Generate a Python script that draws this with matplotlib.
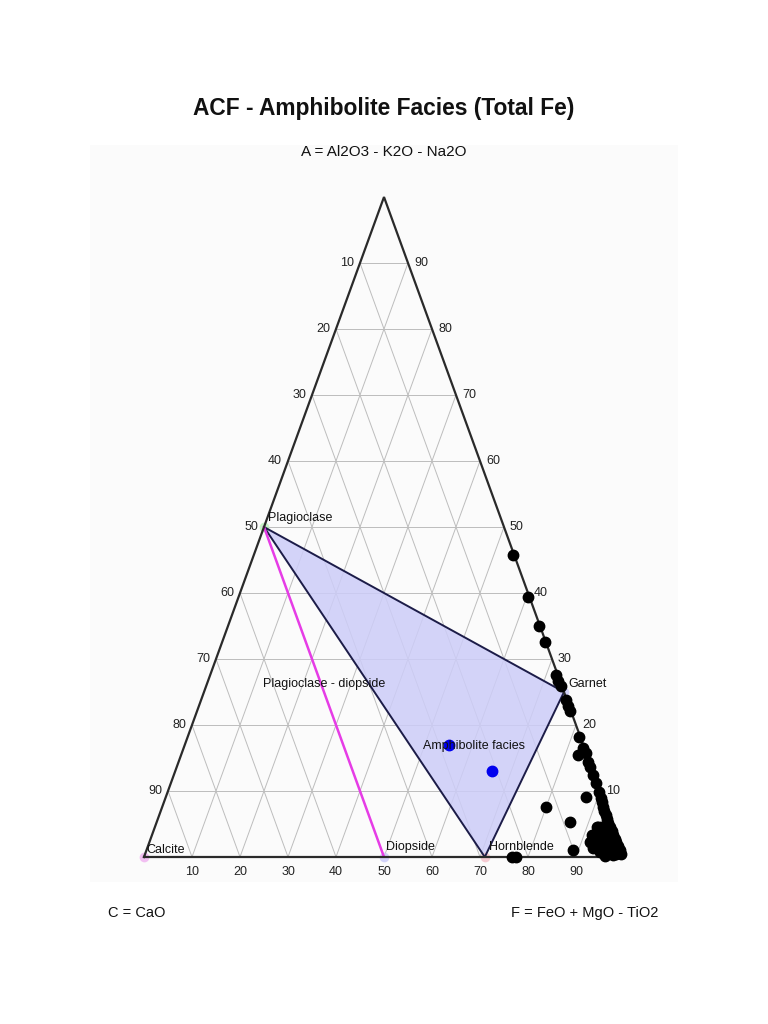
import matplotlib
matplotlib.use('Agg')
import matplotlib.pyplot as plt
from matplotlib.patches import Polygon

plt.rcParams['font.family'] = ['Liberation Sans', 'DejaVu Sans']

# ---------------- data ----------------
ticks = [10, 20, 30, 40, 50, 60, 70, 80, 90]

# mineral end members (A, C, F)
minerals = {
    'Plagioclase': (50, 50, 0),
    'Calcite': (0, 100, 0),
    'Diopside': (0, 50, 50),
    'Hornblende': (0, 29, 71),
    'Garnet': (25, 0, 75),
}

# amphibolite facies field (A, C, F)
field_A = [50, 25, 0]
field_C = [50, 0, 29]
field_F = [0, 75, 71]

# blue samples
blue_A = [16.9, 13.0]
blue_F = [55.0, 66.1]

# black samples (A, C); F = 100 - A - C
black_A = [45.8, 39.4, 35.0, 32.6, 27.6, 26.7, 25.9, 23.8, 22.9, 22.1,
           18.2, 16.5, 15.5, 15.7, 14.4, 13.6, 12.4, 11.2, 9.9, 9.1,
           7.6, 5.3, 1.0, 0.0, 0.0,
           9.0, 8.3, 7.6, 7.0, 6.4, 5.8, 5.2, 4.6, 4.0, 3.4, 2.8, 2.2, 1.6, 1.0, 0.5,
           4.0, 3.5, 3.0, 2.5, 2.0, 1.5, 1.0, 0.6, 0.4, 1.8, 3.6, 2.7, 0.8,
           4.6, 4.6, 3.3, 2.3, 1.3, 4.6, 0.3, 0.2, 1.2, 2.0]
black_C = [0.3, 0.3, 0.3, 0.2, 0.3, 0.3, 0.2, 0.2, 0.3, 0.2,
           0.2, 0.2, 1.8, 0.1, 0.2, 0.2, 0.2, 0.2, 0.2, 3.4,
           12.5, 8.5, 10.1, 23.4, 22.6,
           0.3, 0.4, 0.5, 0.6, 0.5, 0.7, 0.8, 0.6, 0.4, 0.5, 0.4, 0.6, 0.5, 0.4, 0.3,
           1.2, 1.8, 1.4, 2.5, 1.9, 2.8, 1.8, 3.0, 1.4, 3.8, 3.0, 4.3, 4.5,
           3.4, 2.4, 5.1, 5.9, 5.8, 3.1, 2.2, 3.8, 2.6, 3.0]


def tern(A, C, F):
    s = A + C + F
    return F / s + 0.5 * A / s, A / s


# ---------------- figure ----------------
fig = plt.figure(figsize=(7.68, 10.24), dpi=100)
bg = fig.add_axes([90 / 768, 1 - 882 / 1024, 588 / 768, 737 / 1024], zorder=0)
bg.set_facecolor('#fbfbfb')
bg.set_xticks([]); bg.set_yticks([])
for s in bg.spines.values():
    s.set_visible(False)

ax = fig.add_axes([144 / 768, 167 / 1024, 480 / 768, 660 / 1024], zorder=2)
ax.set_xlim(0, 1)
ax.set_ylim(0, 1)
ax.axis('off')

gridc = '#bdbdbd'
for v in ticks:
    # constant A
    p1 = tern(v, 100 - v, 0); p2 = tern(v, 0, 100 - v)
    ax.plot([p1[0], p2[0]], [p1[1], p2[1]], color=gridc, lw=0.7, zorder=1)
    # constant C
    p1 = tern(100 - v, v, 0); p2 = tern(0, v, 100 - v)
    ax.plot([p1[0], p2[0]], [p1[1], p2[1]], color=gridc, lw=0.7, zorder=1)
    # constant F
    p1 = tern(100 - v, 0, v); p2 = tern(0, 100 - v, v)
    ax.plot([p1[0], p2[0]], [p1[1], p2[1]], color=gridc, lw=0.7, zorder=1)

# field polygon
poly_pts = [tern(a, c, f) for a, c, f in zip(field_A, field_C, field_F)]
ax.add_patch(Polygon(poly_pts, closed=True, facecolor='#cdcdf8', alpha=0.85,
                     edgecolor='none', zorder=2))
ax.add_patch(Polygon(poly_pts, closed=True, facecolor='none',
                     edgecolor='#1c1c48', lw=1.4, zorder=4))

# plagioclase - diopside tie line
pA = tern(*minerals['Plagioclase']); pD = tern(*minerals['Diopside'])
ax.plot([pA[0], pD[0]], [pA[1], pD[1]], color='#e63ce6', lw=1.8, zorder=4)

# triangle frame
tri = [tern(0, 100, 0), tern(0, 0, 100), tern(100, 0, 0), tern(0, 100, 0)]
ax.plot([p[0] for p in tri], [p[1] for p in tri], color='#2a2a2a', lw=1.6,
        zorder=5, clip_on=False, solid_joinstyle='miter')

# vertex markers
vcol = {'Plagioclase': '#b8f0b8', 'Calcite': '#f0b0f0', 'Diopside': '#c8c8f8',
        'Hornblende': '#f4c0c8', 'Garnet': '#c8c8f8'}
for name, (a, c, f) in minerals.items():
    x, y = tern(a, c, f)
    ax.plot(x, y, marker='o', ms=7, color=vcol[name], alpha=0.8, mec='none',
            zorder=3, clip_on=False)

# samples
bx, by = zip(*[tern(a, c, 100 - a - c) for a, c in zip(black_A, black_C)])
ax.plot(bx, by, 'o', color='black', ms=7.5, mec='black', zorder=6, clip_on=False)
blx, bly = zip(*[tern(a, 100 - a - f, f) for a, f in zip(blue_A, blue_F)])
ax.plot(blx, bly, 'o', color='#0000ee', ms=7.5, mec='#0000ee', zorder=6)

# tick labels
tfs = 9
for v in ticks:
    x, y = tern(0, 100 - v, v)
    ax.annotate(str(v), (x, y), xytext=(0, -15), textcoords='offset pixels',
                ha='center', va='center', fontsize=tfs, color='#222222')
    x, y = tern(100 - v, v, 0)
    ax.annotate(str(v), (x, y), xytext=(-6, 0), textcoords='offset pixels',
                ha='right', va='center', fontsize=tfs, color='#222222')
    x, y = tern(v, 0, 100 - v)
    ax.annotate(str(v), (x, y), xytext=(6, 0), textcoords='offset pixels',
                ha='left', va='center', fontsize=tfs, color='#222222')

# mineral labels
lfs = 9
offs = {'Plagioclase': (4, 9), 'Calcite': (2, 7), 'Diopside': (2, 10),
        'Hornblende': (4, 10), 'Garnet': (4, 8)}
for name, (a, c, f) in minerals.items():
    x, y = tern(a, c, f)
    ax.annotate(name, (x, y), xytext=offs[name], textcoords='offset pixels',
                ha='left', va='center', fontsize=lfs, color='#111111', zorder=7)

x, y = tern(16.8, 22.8, 60.4)
ax.text(x, y, 'Amphibolite facies', ha='center', va='center', fontsize=lfs,
        color='#111111', zorder=7)
x, y = tern(26.2, 49.4, 24.4)
ax.text(x, y, 'Plagioclase - diopside', ha='center', va='center', fontsize=lfs,
        color='#111111', zorder=7)

# titles
fig.text(0.5, 1 - 108 / 1024, 'ACF - Amphibolite Facies (Total Fe)',
         ha='center', va='center', fontsize=16.4, fontweight='bold', color='#111111')
fig.text(0.5, 1 - 152 / 1024, 'A = Al2O3 - K2O - Na2O', ha='center', va='center',
         fontsize=11, color='#111111', zorder=5)
fig.text(137 / 768, 1 - 913 / 1024, 'C = CaO', ha='center', va='center',
         fontsize=10.5, color='#111111')
fig.text(585 / 768, 1 - 913 / 1024, 'F = FeO + MgO - TiO2', ha='center',
         va='center', fontsize=10.5, color='#111111')

fig.savefig('out.png', dpi=100, facecolor='white')
